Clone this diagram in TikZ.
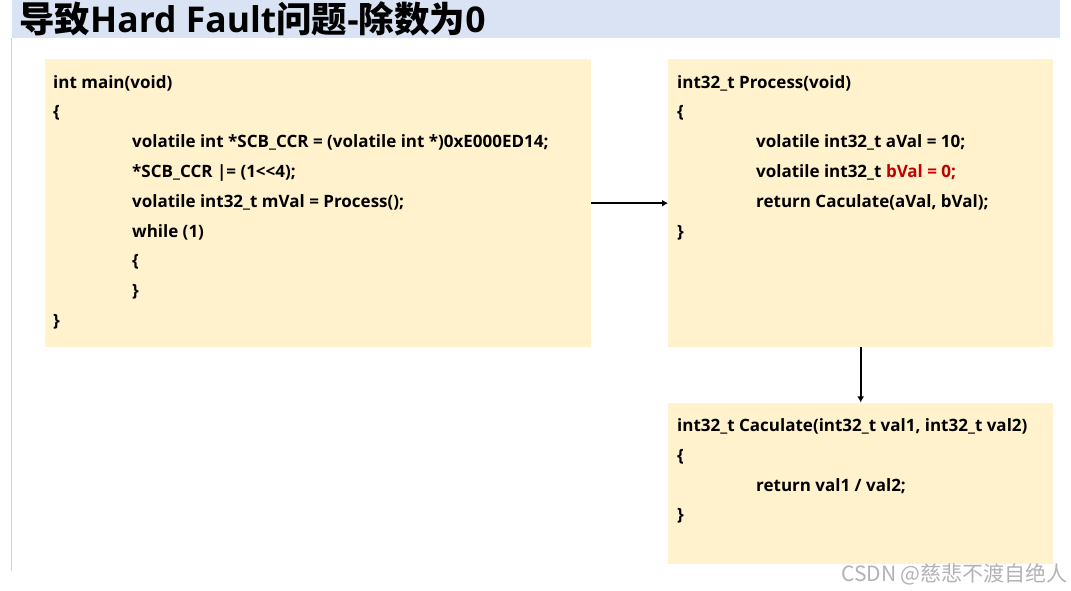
\documentclass[tikz,border=0pt]{standalone}
\usepackage{fontspec}
\setmainfont{Open Sans}
\newfontfamily\cjk{Noto Sans CJK SC}
\usepackage{xcolor}
\usetikzlibrary{arrows.meta,positioning,calc}

\definecolor{titleband}{HTML}{DAE3F3}
\definecolor{codefill}{HTML}{FFF2CC}
\definecolor{errred}{HTML}{C00000}

\tikzset{
  codebox/.style={fill=codefill, inner sep=0pt, anchor=north west, minimum width=#1},
  codetext/.style={inner sep=0pt, anchor=north west, align=left,
    font=\fontsize{17}{29.8}\selectfont\bfseries},
  call/.style={-{Latex[length=6pt,width=7pt]}, line width=1.8pt},
}
\newcommand{\ind}{\hspace*{79pt}}

\begin{document}
\begin{tikzpicture}[x=1pt, y=-1pt]
    \useasboundingbox (0,0) rectangle (1071,591);
    \fill[titleband] (12,0) rectangle (1060,38);
    \draw[black!18, line width=1.2pt] (11.5,38) -- (11.5,571);
    \node[anchor=west, inner sep=0pt, font=\bfseries\fontsize{35.5}{35.5}\selectfont] (title)
      at (19,19) {{\cjk 导致}Hard Fault{\cjk 问题}-{\cjk 除数为}0};

    \node[codebox=546pt, minimum height=288pt] (mainbox) at (45,59) {};
    \node[codebox=385pt, minimum height=288pt] (procbox) at (668,59) {};
    \node[codebox=385pt, minimum height=161pt, below=55pt of procbox] (calcbox) {};

    \node[codetext] (maincode) at ([xshift=8pt, yshift=-16pt]mainbox.north west)
      {int main(void)\\
       \{\\
       \ind volatile int *SCB\_CCR = (volatile int *)0xE000ED14;\\
       \ind *SCB\_CCR |= (1<{}<4);\\
       \ind volatile int32\_t mVal = Process();\\
       \ind while (1)\\
       \ind \{\\
       \ind \}\\
       \}};
    \node[codetext] (proccode) at ([xshift=9pt, yshift=-16pt]procbox.north west)
      {int32\_t Process(void)\\
       \{\\
       \ind volatile int32\_t aVal = 10;\\
       \ind volatile int32\_t \textcolor{errred}{bVal = 0;}\\
       \ind return Caculate(aVal, bVal);\\
       \}};
    \node[codetext] (calccode) at ([xshift=9pt, yshift=-16pt]calcbox.north west)
      {int32\_t Caculate(int32\_t val1, int32\_t val2)\\
       \{\\
       \ind return val1 / val2;\\
       \}};

    \path[call]
      (mainbox) edge (procbox)
      (procbox) edge (calcbox);

    \node[anchor=east, inner sep=0pt, text=black!30, font=\cjk\fontsize{21}{21}\selectfont] (mark)
      at (1068,574) {CSDN @慈悲不渡自绝人};
\end{tikzpicture}
\end{document}
